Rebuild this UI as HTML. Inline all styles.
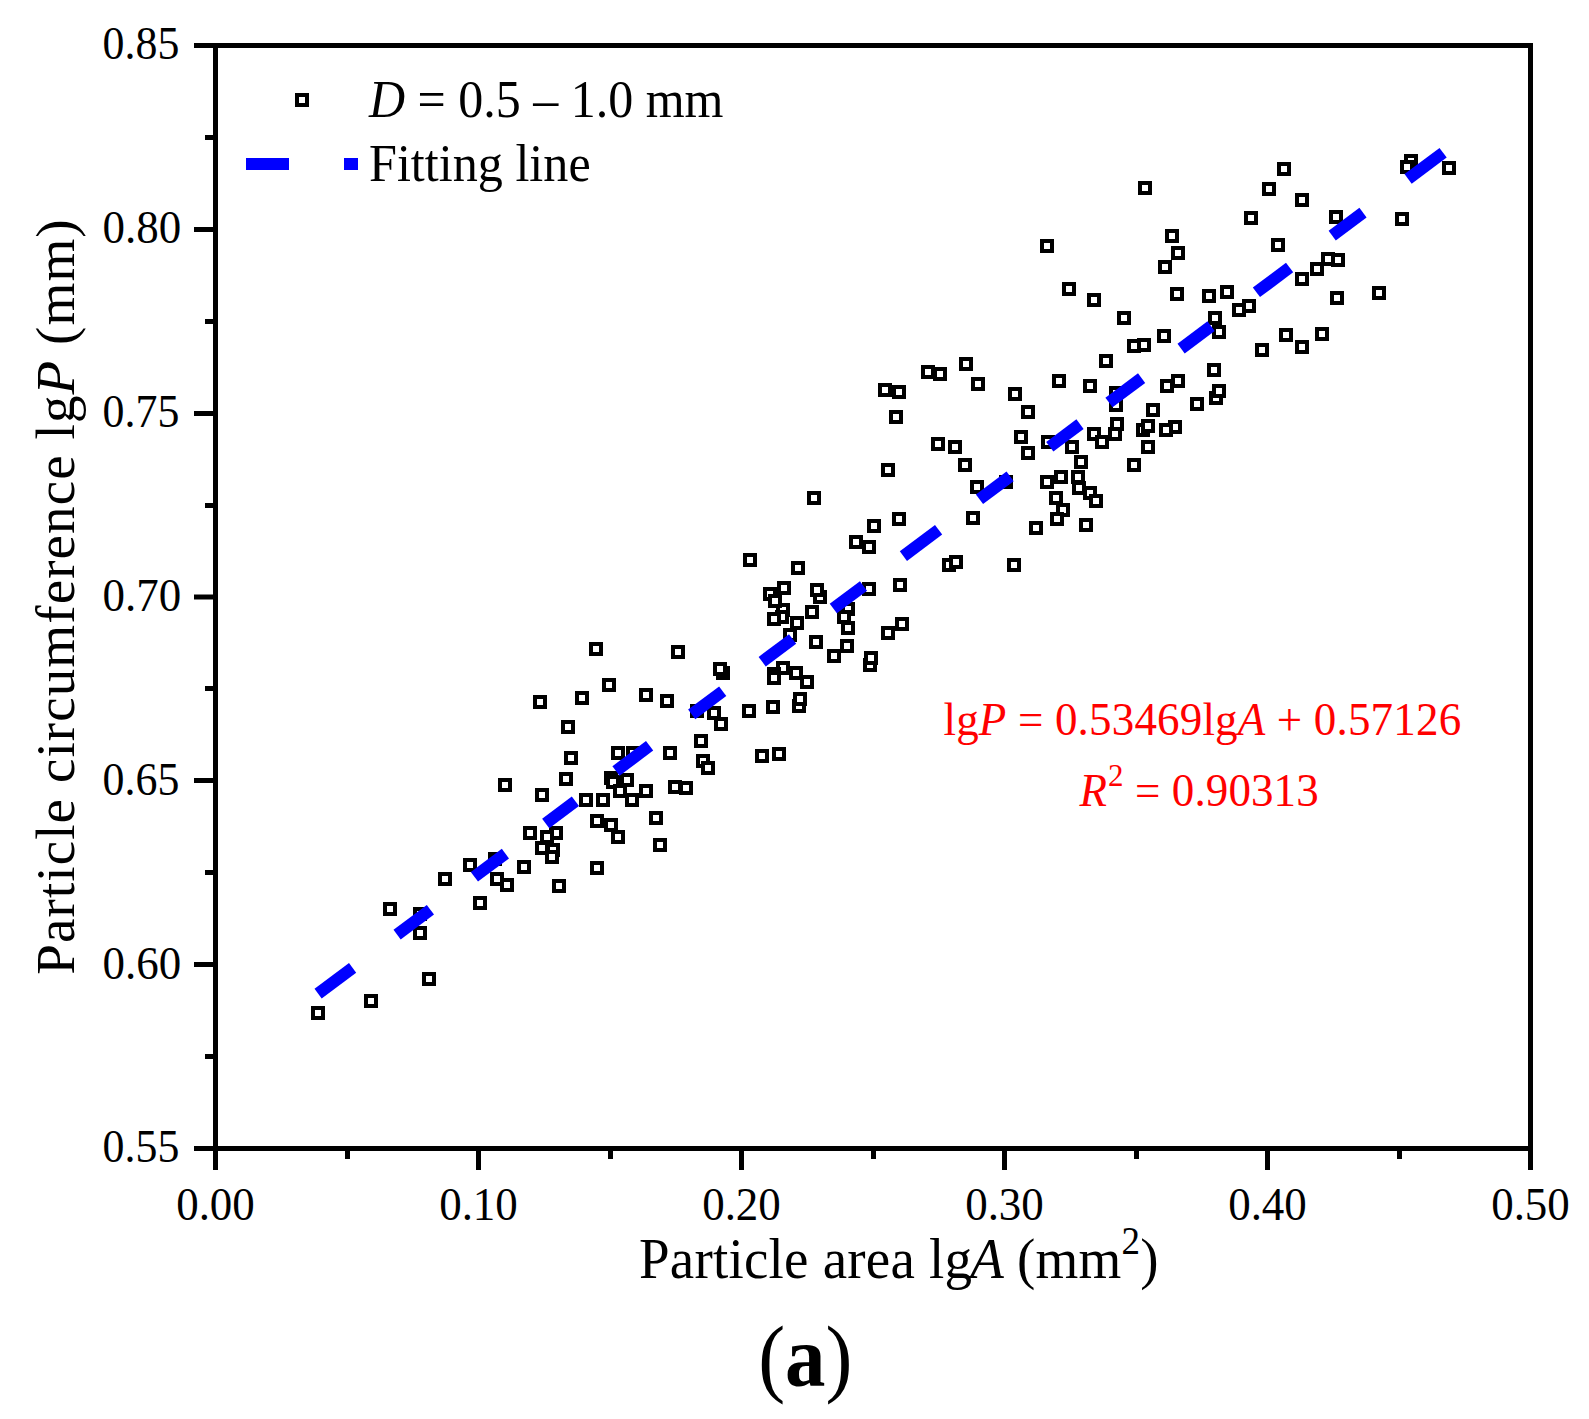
<!DOCTYPE html>
<html><head><meta charset="utf-8"><title>Figure (a)</title>
<style>
html,body{margin:0;padding:0;background:#fff;}
svg{display:block;}
text{font-family:"Liberation Serif",serif;fill:#000;}
.tk{font-size:45px;}
.ax{font-size:55px;}
.lg{font-size:50px;}
.eq{font-size:45px;fill:#f00;}
.it{font-style:italic;}
</style></head><body>
<svg width="1589" height="1419" viewBox="0 0 1589 1419">
<rect width="1589" height="1419" fill="#fff"/>

<g stroke="#000" stroke-width="5" fill="none" stroke-linecap="butt">
<rect x="215.5" y="45.5" width="1315.0" height="1103.0"/>
<line x1="215.5" y1="1148.5" x2="215.5" y2="1170.0"/>
<line x1="478.5" y1="1148.5" x2="478.5" y2="1170.0"/>
<line x1="741.5" y1="1148.5" x2="741.5" y2="1170.0"/>
<line x1="1004.5" y1="1148.5" x2="1004.5" y2="1170.0"/>
<line x1="1267.5" y1="1148.5" x2="1267.5" y2="1170.0"/>
<line x1="1530.5" y1="1148.5" x2="1530.5" y2="1170.0"/>
<line x1="347.5" y1="1148.5" x2="347.5" y2="1159.0"/>
<line x1="610.5" y1="1148.5" x2="610.5" y2="1159.0"/>
<line x1="873.5" y1="1148.5" x2="873.5" y2="1159.0"/>
<line x1="1136.5" y1="1148.5" x2="1136.5" y2="1159.0"/>
<line x1="1399.5" y1="1148.5" x2="1399.5" y2="1159.0"/>
<line x1="215.5" y1="1148.5" x2="194.0" y2="1148.5"/>
<line x1="215.5" y1="964.5" x2="194.0" y2="964.5"/>
<line x1="215.5" y1="780.5" x2="194.0" y2="780.5"/>
<line x1="215.5" y1="597.0" x2="194.0" y2="597.0"/>
<line x1="215.5" y1="413.5" x2="194.0" y2="413.5"/>
<line x1="215.5" y1="229.5" x2="194.0" y2="229.5"/>
<line x1="215.5" y1="45.5" x2="194.0" y2="45.5"/>
<line x1="215.5" y1="1056.5" x2="205.0" y2="1056.5"/>
<line x1="215.5" y1="872.5" x2="205.0" y2="872.5"/>
<line x1="215.5" y1="688.5" x2="205.0" y2="688.5"/>
<line x1="215.5" y1="505.5" x2="205.0" y2="505.5"/>
<line x1="215.5" y1="321.5" x2="205.0" y2="321.5"/>
<line x1="215.5" y1="137.5" x2="205.0" y2="137.5"/>
</g>
<text class="tk" transform="translate(215.5,1220.3) scale(1,1.045)" text-anchor="middle">0.00</text>
<text class="tk" transform="translate(478.5,1220.3) scale(1,1.045)" text-anchor="middle">0.10</text>
<text class="tk" transform="translate(741.5,1220.3) scale(1,1.045)" text-anchor="middle">0.20</text>
<text class="tk" transform="translate(1004.5,1220.3) scale(1,1.045)" text-anchor="middle">0.30</text>
<text class="tk" transform="translate(1267.5,1220.3) scale(1,1.045)" text-anchor="middle">0.40</text>
<text class="tk" transform="translate(1530.5,1220.3) scale(1,1.045)" text-anchor="middle">0.50</text>
<text class="tk" transform="translate(102.6,1162.4) scale(0.975,1.045)">0.55</text>
<text class="tk" transform="translate(102.6,978.6) scale(1,1.045)">0.60</text>
<text class="tk" transform="translate(102.6,794.7) scale(0.975,1.045)">0.65</text>
<text class="tk" transform="translate(102.6,610.9) scale(1,1.045)">0.70</text>
<text class="tk" transform="translate(102.6,427.1) scale(0.975,1.045)">0.75</text>
<text class="tk" transform="translate(102.6,243.2) scale(1,1.045)">0.80</text>
<text class="tk" transform="translate(102.6,59.4) scale(0.975,1.045)">0.85</text>
<text class="ax" transform="translate(639,1278) scale(1,1.055)" letter-spacing="0.22">Particle area lg<tspan class="it" dx="-2">A</tspan><tspan dx="-1"> </tspan>(mm<tspan font-size="37" dy="-22.3">2</tspan><tspan dy="22.3">)</tspan></text>
<text class="ax" transform="translate(74,974.7) rotate(-90)" letter-spacing="1.1">Particle circumference lg<tspan class="it">P</tspan> (mm)</text>
<text transform="translate(758.2,1386) scale(0.94,1)" font-size="86">(<tspan font-weight="bold">a</tspan>)</text>
<rect x="297" y="95" width="10" height="10" fill="none" stroke="#000" stroke-width="4"/>
<text class="lg" transform="translate(369,117.2) scale(1,1.05)"><tspan class="it">D</tspan> = 0.5 – 1.0 mm</text>
<rect x="246" y="158" width="43" height="12" fill="#00f"/>
<rect x="344" y="158" width="14" height="12" fill="#00f"/>
<text class="lg" transform="translate(369,181) scale(1.004,1.045)">Fitting line</text>
<text class="eq" transform="translate(943.5,735) scale(1,1.05)" letter-spacing="0.18">lg<tspan class="it">P</tspan> = 0.53469lg<tspan class="it">A</tspan> + 0.57126</text>
<text class="eq" transform="translate(1079.5,805.7) scale(1,1.05)" letter-spacing="0.1"><tspan class="it">R</tspan><tspan font-size="31" dy="-18.3" dx="1">2</tspan><tspan dy="18.3"> = 0.90313</tspan></text>
<g fill="#fff" stroke="#000" stroke-width="4">
<rect x="313" y="1008" width="10" height="10"/>
<rect x="366" y="996" width="10" height="10"/>
<rect x="424" y="974" width="10" height="10"/>
<rect x="415" y="928" width="10" height="10"/>
<rect x="415" y="909" width="10" height="10"/>
<rect x="385" y="904" width="10" height="10"/>
<rect x="475" y="898" width="10" height="10"/>
<rect x="440" y="874" width="10" height="10"/>
<rect x="465" y="860" width="10" height="10"/>
<rect x="492" y="874" width="10" height="10"/>
<rect x="502" y="880" width="10" height="10"/>
<rect x="490" y="854" width="10" height="10"/>
<rect x="519" y="862" width="10" height="10"/>
<rect x="554" y="881" width="10" height="10"/>
<rect x="592" y="863" width="10" height="10"/>
<rect x="525" y="828" width="10" height="10"/>
<rect x="551" y="828" width="10" height="10"/>
<rect x="537" y="843" width="10" height="10"/>
<rect x="548" y="845" width="10" height="10"/>
<rect x="500" y="780" width="10" height="10"/>
<rect x="537" y="790" width="10" height="10"/>
<rect x="581" y="795" width="10" height="10"/>
<rect x="598" y="795" width="10" height="10"/>
<rect x="592" y="816" width="10" height="10"/>
<rect x="606" y="820" width="10" height="10"/>
<rect x="613" y="832" width="10" height="10"/>
<rect x="561" y="774" width="10" height="10"/>
<rect x="591" y="644" width="10" height="10"/>
<rect x="673" y="647" width="10" height="10"/>
<rect x="604" y="680" width="10" height="10"/>
<rect x="577" y="693" width="10" height="10"/>
<rect x="641" y="690" width="10" height="10"/>
<rect x="662" y="696" width="10" height="10"/>
<rect x="563" y="722" width="10" height="10"/>
<rect x="566" y="753" width="10" height="10"/>
<rect x="613" y="748" width="10" height="10"/>
<rect x="628" y="748" width="10" height="10"/>
<rect x="665" y="748" width="10" height="10"/>
<rect x="606" y="773" width="10" height="10"/>
<rect x="622" y="775" width="10" height="10"/>
<rect x="627" y="795" width="10" height="10"/>
<rect x="641" y="786" width="10" height="10"/>
<rect x="670" y="782" width="10" height="10"/>
<rect x="681" y="783" width="10" height="10"/>
<rect x="651" y="813" width="10" height="10"/>
<rect x="655" y="840" width="10" height="10"/>
<rect x="696" y="736" width="10" height="10"/>
<rect x="698" y="756" width="10" height="10"/>
<rect x="692" y="706" width="10" height="10"/>
<rect x="709" y="708" width="10" height="10"/>
<rect x="716" y="719" width="10" height="10"/>
<rect x="718" y="668" width="10" height="10"/>
<rect x="744" y="706" width="10" height="10"/>
<rect x="768" y="702" width="10" height="10"/>
<rect x="794" y="701" width="10" height="10"/>
<rect x="757" y="751" width="10" height="10"/>
<rect x="774" y="749" width="10" height="10"/>
<rect x="778" y="663" width="10" height="10"/>
<rect x="791" y="668" width="10" height="10"/>
<rect x="802" y="677" width="10" height="10"/>
<rect x="811" y="637" width="10" height="10"/>
<rect x="829" y="651" width="10" height="10"/>
<rect x="842" y="641" width="10" height="10"/>
<rect x="843" y="623" width="10" height="10"/>
<rect x="843" y="604" width="10" height="10"/>
<rect x="865" y="660" width="10" height="10"/>
<rect x="785" y="630" width="10" height="10"/>
<rect x="792" y="618" width="10" height="10"/>
<rect x="778" y="605" width="10" height="10"/>
<rect x="807" y="607" width="10" height="10"/>
<rect x="535" y="697" width="10" height="10"/>
<rect x="745" y="555" width="10" height="10"/>
<rect x="809" y="493" width="10" height="10"/>
<rect x="793" y="563" width="10" height="10"/>
<rect x="779" y="583" width="10" height="10"/>
<rect x="765" y="589" width="10" height="10"/>
<rect x="815" y="592" width="10" height="10"/>
<rect x="923" y="367" width="10" height="10"/>
<rect x="935" y="369" width="10" height="10"/>
<rect x="880" y="385" width="10" height="10"/>
<rect x="894" y="387" width="10" height="10"/>
<rect x="891" y="412" width="10" height="10"/>
<rect x="933" y="439" width="10" height="10"/>
<rect x="950" y="442" width="10" height="10"/>
<rect x="883" y="465" width="10" height="10"/>
<rect x="960" y="460" width="10" height="10"/>
<rect x="972" y="482" width="10" height="10"/>
<rect x="1001" y="477" width="10" height="10"/>
<rect x="894" y="514" width="10" height="10"/>
<rect x="869" y="521" width="10" height="10"/>
<rect x="851" y="537" width="10" height="10"/>
<rect x="864" y="542" width="10" height="10"/>
<rect x="968" y="513" width="10" height="10"/>
<rect x="944" y="560" width="10" height="10"/>
<rect x="1009" y="560" width="10" height="10"/>
<rect x="864" y="584" width="10" height="10"/>
<rect x="895" y="580" width="10" height="10"/>
<rect x="883" y="628" width="10" height="10"/>
<rect x="897" y="619" width="10" height="10"/>
<rect x="1023" y="407" width="10" height="10"/>
<rect x="1016" y="432" width="10" height="10"/>
<rect x="1023" y="448" width="10" height="10"/>
<rect x="1043" y="437" width="10" height="10"/>
<rect x="1067" y="442" width="10" height="10"/>
<rect x="1076" y="457" width="10" height="10"/>
<rect x="1056" y="472" width="10" height="10"/>
<rect x="1042" y="477" width="10" height="10"/>
<rect x="1073" y="472" width="10" height="10"/>
<rect x="1074" y="483" width="10" height="10"/>
<rect x="1085" y="488" width="10" height="10"/>
<rect x="1051" y="493" width="10" height="10"/>
<rect x="1058" y="505" width="10" height="10"/>
<rect x="1031" y="523" width="10" height="10"/>
<rect x="1081" y="520" width="10" height="10"/>
<rect x="1089" y="429" width="10" height="10"/>
<rect x="1110" y="429" width="10" height="10"/>
<rect x="1112" y="419" width="10" height="10"/>
<rect x="1111" y="400" width="10" height="10"/>
<rect x="1129" y="460" width="10" height="10"/>
<rect x="1167" y="231" width="10" height="10"/>
<rect x="1173" y="248" width="10" height="10"/>
<rect x="1160" y="262" width="10" height="10"/>
<rect x="1089" y="295" width="10" height="10"/>
<rect x="1119" y="313" width="10" height="10"/>
<rect x="1172" y="289" width="10" height="10"/>
<rect x="1204" y="291" width="10" height="10"/>
<rect x="1222" y="287" width="10" height="10"/>
<rect x="1159" y="331" width="10" height="10"/>
<rect x="1129" y="341" width="10" height="10"/>
<rect x="1101" y="356" width="10" height="10"/>
<rect x="1085" y="381" width="10" height="10"/>
<rect x="1111" y="388" width="10" height="10"/>
<rect x="1162" y="381" width="10" height="10"/>
<rect x="1173" y="376" width="10" height="10"/>
<rect x="1209" y="365" width="10" height="10"/>
<rect x="1214" y="327" width="10" height="10"/>
<rect x="1210" y="313" width="10" height="10"/>
<rect x="1234" y="305" width="10" height="10"/>
<rect x="1244" y="301" width="10" height="10"/>
<rect x="1257" y="345" width="10" height="10"/>
<rect x="1281" y="330" width="10" height="10"/>
<rect x="1297" y="342" width="10" height="10"/>
<rect x="1317" y="329" width="10" height="10"/>
<rect x="1332" y="293" width="10" height="10"/>
<rect x="1374" y="288" width="10" height="10"/>
<rect x="1297" y="274" width="10" height="10"/>
<rect x="1312" y="264" width="10" height="10"/>
<rect x="1323" y="254" width="10" height="10"/>
<rect x="1333" y="255" width="10" height="10"/>
<rect x="1273" y="240" width="10" height="10"/>
<rect x="1246" y="213" width="10" height="10"/>
<rect x="1331" y="212" width="10" height="10"/>
<rect x="1148" y="405" width="10" height="10"/>
<rect x="1192" y="399" width="10" height="10"/>
<rect x="1211" y="393" width="10" height="10"/>
<rect x="1138" y="425" width="10" height="10"/>
<rect x="1170" y="422" width="10" height="10"/>
<rect x="1143" y="442" width="10" height="10"/>
<rect x="1279" y="164" width="10" height="10"/>
<rect x="1264" y="184" width="10" height="10"/>
<rect x="1297" y="195" width="10" height="10"/>
<rect x="1397" y="214" width="10" height="10"/>
<rect x="1406" y="156" width="10" height="10"/>
<rect x="1444" y="163" width="10" height="10"/>
<rect x="1140" y="183" width="10" height="10"/>
<rect x="1042" y="241" width="10" height="10"/>
<rect x="1064" y="284" width="10" height="10"/>
<rect x="961" y="359" width="10" height="10"/>
<rect x="973" y="379" width="10" height="10"/>
<rect x="1010" y="389" width="10" height="10"/>
<rect x="1054" y="376" width="10" height="10"/>
<rect x="542" y="832" width="10" height="10"/>
<rect x="547" y="852" width="10" height="10"/>
<rect x="608" y="777" width="10" height="10"/>
<rect x="703" y="763" width="10" height="10"/>
<rect x="715" y="664" width="10" height="10"/>
<rect x="795" y="694" width="10" height="10"/>
<rect x="769" y="669" width="10" height="10"/>
<rect x="839" y="612" width="10" height="10"/>
<rect x="866" y="653" width="10" height="10"/>
<rect x="777" y="612" width="10" height="10"/>
<rect x="770" y="596" width="10" height="10"/>
<rect x="812" y="585" width="10" height="10"/>
<rect x="951" y="557" width="10" height="10"/>
<rect x="1091" y="496" width="10" height="10"/>
<rect x="1052" y="514" width="10" height="10"/>
<rect x="1097" y="437" width="10" height="10"/>
<rect x="1139" y="340" width="10" height="10"/>
<rect x="1214" y="386" width="10" height="10"/>
<rect x="1143" y="421" width="10" height="10"/>
<rect x="1161" y="425" width="10" height="10"/>
<rect x="1402" y="162" width="10" height="10"/>
<rect x="615" y="786" width="10" height="10"/>
<rect x="769" y="673" width="10" height="10"/>
<rect x="769" y="614" width="10" height="10"/>
</g>
<g stroke="#00f" stroke-width="12" fill="none">
<line x1="318.1" y1="993.6" x2="352.6" y2="967.9"/>
<line x1="397.1" y1="934.6" x2="430.4" y2="909.7"/>
<line x1="474.4" y1="876.8" x2="505.4" y2="853.6"/>
<line x1="545.7" y1="823.5" x2="575.4" y2="801.3"/>
<line x1="616.0" y1="771.0" x2="649.6" y2="745.8"/>
<line x1="691.7" y1="714.4" x2="722.7" y2="691.2"/>
<line x1="762.2" y1="661.7" x2="792.6" y2="639.0"/>
<line x1="833.3" y1="608.5" x2="863.5" y2="586.0"/>
<line x1="903.4" y1="556.1" x2="938.6" y2="529.8"/>
<line x1="979.5" y1="499.3" x2="1010.1" y2="476.4"/>
<line x1="1049.8" y1="446.7" x2="1080.0" y2="424.1"/>
<line x1="1109.0" y1="402.5" x2="1141.6" y2="378.1"/>
<line x1="1181.1" y1="348.6" x2="1211.1" y2="326.1"/>
<line x1="1256.4" y1="292.3" x2="1289.6" y2="267.5"/>
<line x1="1332.2" y1="235.6" x2="1363.0" y2="212.6"/>
<line x1="1408.1" y1="178.9" x2="1443.1" y2="152.7"/>
</g>
</svg></body></html>
